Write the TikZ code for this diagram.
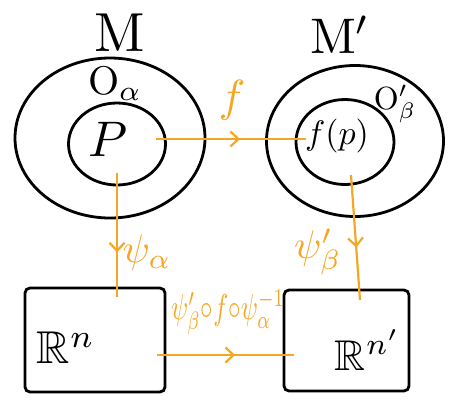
\documentclass[tikz,border=0pt]{standalone}
\usepackage{amsmath, amssymb}
\usetikzlibrary{shapes.geometric, arrows.meta, positioning, decorations.markings}
\definecolor{maporange}{RGB}{245,166,35}

\begin{document}
\begin{tikzpicture}[
        x=1pt, y=-1pt,
        set/.style={ellipse, draw=black, line width=2.8pt, inner sep=0pt},
        chart/.style={rectangle, draw=black, line width=2.8pt, rounded corners=5pt, inner sep=0pt},
        lbl/.style={inner sep=0pt, scale=#1},
        maplbl/.style={inner sep=0pt, scale=#1, text=maporange},
        maparrow/.style={maporange, line width=2.2pt, postaction={decorate},
            decoration={markings, mark=at position #1 with {\arrow{Straight Barb[length=8pt,width=15pt,line width=2.2pt]}}}}
    ]
        \useasboundingbox (0,0) rectangle (474,408);

        % sets and charts
        \node[set, minimum width=190pt, minimum height=160pt] (M) at (110,138) {};
        \node[set, minimum width=97pt, minimum height=82pt] (Ua) at (117,144) {};
        \node[set, minimum width=177pt, minimum height=151pt] (Mp) at (355,141) {};
        \node[set, minimum width=98pt, minimum height=85pt] (Vb) at (345,142) {};
        \node[chart, minimum width=140pt, minimum height=104pt] (Rn) at (95,340) {};
        \node[chart, minimum width=125pt, minimum height=101pt] (Rnp) at (346.5,340.5) {};

        % black labels
        \node[lbl=5.5] (Mlbl) at (120,33) {$\mathrm{M}$};
        \node[lbl=5] (Mplbl) at (340,35) {$\mathrm{M}'$};
        \node[lbl=4] (Ualbl) at (115,84) {$\mathrm{O}_\alpha$};
        \node[lbl=3.2] (Vblbl) at (395,104) {$\mathrm{O}'_\beta$};
        \node[lbl=5] (plbl) at (108,139) {$P$};
        \node[lbl=3.4] (fplbl) at (337,136) {$f(p)$};
        \node[lbl=4.6] (Rnlbl) at (66,348) {$\mathbb{R}^n$};
        \node[lbl=4.3] (Rnplbl) at (368,350) {$\mathbb{R}^{n'}$};

        % maps
        \coordinate (fA) at (156,139);
        \coordinate (fB) at (306,139);
        \coordinate (psiA) at (117,173);
        \coordinate (psiB) at (117,297);
        \coordinate (psipA) at (351,175);
        \coordinate (psipB) at (360,300);
        \coordinate (trA) at (157,355);
        \coordinate (trB) at (294,355);

        \draw[maparrow=0.56] (fA) -- (fB);
        \draw[maparrow=0.64] (psiA) -- (psiB);
        \draw[maparrow=0.58] (psipA) -- (psipB);
        \draw[maparrow=0.57] (trA) -- (trB);

        \node[maplbl=4.5] (flbl) at (232,100) {$f$};
        \node[maplbl=4] (psilbl) at (147,252) {$\psi_\alpha$};
        \node[maplbl=4] (psiplbl) at (318,252) {$\psi'_\beta$};
        \node[maplbl=1, xscale=2.5, yscale=3.6] (trlbl) at (228,312) {$\psi'_\beta{\circ}f{\circ}\psi_\alpha^{-1}$};
    \end{tikzpicture}
\end{document}
